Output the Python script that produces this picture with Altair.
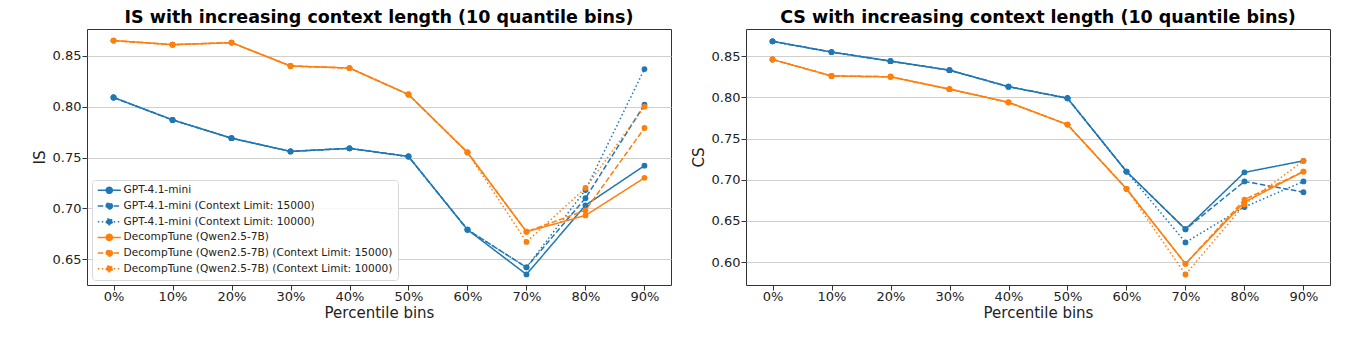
import altair as alt
import pandas as pd

bins = ["0%", "10%", "20%", "30%", "40%", "50%", "60%", "70%", "80%", "90%"]
series = [
    "GPT-4.1-mini",
    "GPT-4.1-mini (Context Limit: 15000)",
    "GPT-4.1-mini (Context Limit: 10000)",
    "DecompTune (Qwen2.5-7B)",
    "DecompTune (Qwen2.5-7B) (Context Limit: 15000)",
    "DecompTune (Qwen2.5-7B) (Context Limit: 10000)",
]

is_gpt = [0.809, 0.787, 0.769, 0.756, 0.759, 0.751, 0.679, 0.635, 0.703, 0.742]
is_gpt_15k = [0.809, 0.787, 0.769, 0.756, 0.759, 0.751, 0.679, 0.642, 0.710, 0.802]
is_gpt_10k = [0.809, 0.787, 0.769, 0.756, 0.759, 0.751, 0.679, 0.642, 0.718, 0.837]
is_dt = [0.865, 0.861, 0.863, 0.840, 0.838, 0.812, 0.755, 0.677, 0.693, 0.730]
is_dt_15k = [0.865, 0.861, 0.863, 0.840, 0.838, 0.812, 0.755, 0.677, 0.698, 0.779]
is_dt_10k = [0.865, 0.861, 0.863, 0.840, 0.838, 0.812, 0.755, 0.667, 0.720, 0.800]

cs_gpt = [0.868, 0.855, 0.844, 0.833, 0.813, 0.799, 0.710, 0.640, 0.709, 0.723]
cs_gpt_15k = [0.868, 0.855, 0.844, 0.833, 0.813, 0.799, 0.710, 0.640, 0.698, 0.685]
cs_gpt_10k = [0.868, 0.855, 0.844, 0.833, 0.813, 0.799, 0.710, 0.624, 0.667, 0.698]
cs_dt = [0.846, 0.826, 0.825, 0.810, 0.794, 0.767, 0.689, 0.598, 0.673, 0.710]
cs_dt_15k = [0.846, 0.826, 0.825, 0.810, 0.794, 0.767, 0.689, 0.598, 0.676, 0.710]
cs_dt_10k = [0.846, 0.826, 0.825, 0.810, 0.794, 0.767, 0.689, 0.585, 0.670, 0.723]

is_data = [is_gpt, is_gpt_15k, is_gpt_10k, is_dt, is_dt_15k, is_dt_10k]
cs_data = [cs_gpt, cs_gpt_15k, cs_gpt_10k, cs_dt, cs_dt_15k, cs_dt_10k]

BLUE = "#1f77b4"
ORANGE = "#ff7f0e"
colors = [BLUE, BLUE, BLUE, ORANGE, ORANGE, ORANGE]
dashes = [[1, 0], [5.5, 2.4], [1.5, 2.5], [1, 0], [5.5, 2.4], [1.5, 2.5]]


def make_df(data):
    rows = []
    for si, (name, vals) in enumerate(zip(series, data)):
        for bi, v in enumerate(vals):
            rows.append({"series": name, "order": si, "bin": bi, "value": v})
    return pd.DataFrame(rows)


label_expr = "[" + ",".join("'%s'" % b for b in bins) + "][datum.value]"
FONT = "DejaVu Sans"


def panel(data, ytitle, title, ydomain, yticks, show_legend):
    df = make_df(data)
    x = alt.X(
        "bin:Q",
        scale=alt.Scale(domain=[-0.45, 9.45], nice=False, zero=False),
        axis=alt.Axis(values=list(range(10)), labelExpr=label_expr, grid=False,
                      title="Percentile bins", labelPadding=0, titlePadding=2),
    )
    y = alt.Y(
        "value:Q",
        scale=alt.Scale(domain=ydomain, nice=False, zero=False),
        axis=alt.Axis(values=yticks, format=".2f", grid=True, title=ytitle,
                      labelPadding=1, titlePadding=5),
    )
    if show_legend:
        legend = alt.Legend(
            title=None,
            orient="bottom-left",
            offset=5,
            symbolType="M-3.2,0H3.2M0.85,0A0.85,0.85,0,1,1,-0.85,0A0.85,0.85,0,1,1,0.85,0",
            symbolSize=52,
            symbolOffset=7,
            labelOffset=9,
            symbolStrokeWidth=1.5,
            labelFontSize=10.6,
            labelFont=FONT,
            labelColor="#222",
            rowPadding=2.7,
            padding=5,
            strokeColor="#d8d8d8",
            fillColor="rgba(255,255,255,0.85)",
            cornerRadius=3,
            labelLimit=400,
        )
    else:
        legend = None
    color = alt.Color("series:N", scale=alt.Scale(domain=series, range=colors),
                      legend=legend, sort=series)
    dash = alt.StrokeDash("series:N", scale=alt.Scale(domain=series, range=dashes),
                          legend=legend, sort=series)
    lines = alt.Chart(df).mark_line(strokeWidth=1.5).encode(
        x=x, y=y, color=color, strokeDash=dash, detail="series:N",
        order=alt.Order("bin:Q"),
    )
    pts = alt.Chart(df).mark_circle(size=34, opacity=1).encode(
        x=x, y=y, color=color,
    )
    return alt.layer(lines, pts).properties(
        width=584, height=256,
        title=alt.TitleParams(title, fontSize=17.5, font=FONT, fontWeight="bold",
                              color="#000", offset=3),
    )


left = panel(is_data, "IS", "IS with increasing context length (10 quantile bins)",
             [0.6246, 0.8764], [0.65, 0.70, 0.75, 0.80, 0.85], True)
right = panel(cs_data, "CS", "CS with increasing context length (10 quantile bins)",
              [0.5723, 0.883], [0.60, 0.65, 0.70, 0.75, 0.80, 0.85], False)

chart = alt.hconcat(left, right, spacing=18).resolve_scale(
    color="independent", strokeDash="independent", y="independent"
).configure(
    font=FONT,
).configure_view(
    stroke="#333", strokeWidth=1,
).configure_axis(
    labelFont=FONT, titleFont=FONT, labelFontSize=13, titleFontSize=15,
    labelColor="#222", titleColor="#222", titleFontWeight="normal",
    domain=False, tickColor="#333", tickSize=5,
    gridColor="#cfcfcf", gridWidth=1,
).configure_concat(spacing=18).properties(
    padding={"left": 31, "top": 8, "right": 10, "bottom": 5},
    background="white",
)

chart.save("out.html", embed_options={"renderer": "svg", "actions": False})
